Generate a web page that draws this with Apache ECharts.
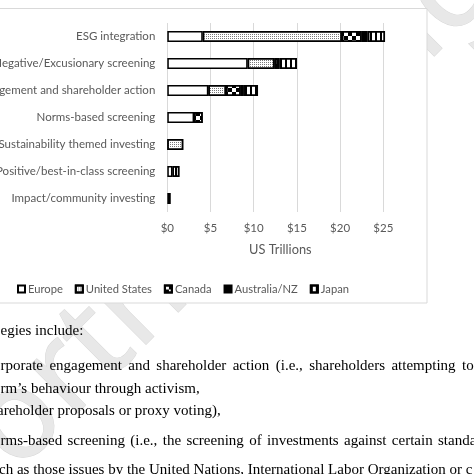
<!DOCTYPE html>
<html><head><meta charset="utf-8">
<script src="https://cdn.jsdelivr.net/npm/echarts@6/dist/echarts.min.js"></script>
<style>html,body{margin:0;padding:0;background:#fff}#c{width:474px;height:474px}</style>
</head><body><div id="c"></div>
<script>
// ---- chart data ----
const categories = ['ESG integration','Negative/Excusionary screening','Corporate engagement and shareholder action','Norms-based screening','Sustainability themed investing','Positive/best-in-class screening','Impact/community investing'];
const seriesNames = ['Europe','United States','Canada','Australia/NZ','Japan'];
const europe       = [4.1, 9.3, 4.75, 3.1, 0,    0.6, 0];
const unitedStates = [16.1, 3.1, 2.05, 0,  1.85, 0,   0];
const canada       = [2.3, 0.4, 1.7,  1.0, 0,    0,   0];
const australiaNZ  = [0.7, 0.2, 0.3,  0,   0,    0,   0.4];
const japan        = [2.0, 2.0, 1.7,  0,   0,    0.8, 0];
const xTicks = [0, 5, 10, 15, 20, 25];
const axisTitle = 'US Trillions';

// ---- page text around the chart ----
const textLines = [
  {words:['egies include:'], y:335},
  {words:['rporate','engagement','and','shareholder','action','(i.e.,','shareholders','attempting','to'], y:370.5, justifyTo:462},
  {words:['rm\u2019s behaviour through activism,'], y:393},
  {words:['areholder proposals or proxy voting),'], y:415.5, x0:-3},
  {words:['rms-based','screening','(i.e.,','the','screening','of','investments','against','certain','standards'], y:445, justifyTo:438},
  {words:['ch as those issues by the United Nations, International Labor Organization or c'], y:474.5, x0:-1}
];

const values = [europe, unitedStates, canada, australiaNZ, japan];
const fills = ['#ffffff','#ffffff','#ffffff','#000000','#ffffff'];
const decals = [
  null,
  {symbol:'rect', symbolSize:1, color:'#7a7a7a', dashArrayX:[1,1], dashArrayY:[1,1]},
  {symbol:'rect', symbolSize:1, color:'#000', dashArrayX:[[4,4],[0,4,4,0]], dashArrayY:[4,0]},
  null,
  {symbol:'rect', symbolSize:1, color:'#000', dashArrayX:[1.5,3], dashArrayY:[1,0]}
];

const FONT = 'Lato';
const GRAY = '#595959';
const serif = '15px "Liberation Serif"';
const ctx = document.createElement('canvas').getContext('2d');
ctx.font = serif;

const textEls = [];
textLines.forEach(line => {
  const x0 = line.x0 !== undefined ? line.x0 : 0.5;
  const baseY = line.y + 3.5;
  if (line.justifyTo !== undefined && line.words.length > 1) {
    const widths = line.words.map(w => ctx.measureText(w).width);
    const before = widths.slice(0, -1).reduce((a,b)=>a+b, 0);
    const gap = (line.justifyTo - x0 - before) / (line.words.length - 1);
    let x = x0;
    line.words.forEach((w, i) => {
      textEls.push({type:'text', z:10, style:{x:x, y:baseY, text:w, font:serif, fill:'#000', textAlign:'left', textVerticalAlign:'bottom'}});
      x += widths[i] + gap;
    });
  } else {
    textEls.push({type:'text', z:10, style:{x:x0, y:baseY, text:line.words.join(' '), font:serif, fill:'#000', textAlign:'left', textVerticalAlign:'bottom'}});
  }
});

const chart = echarts.init(document.getElementById('c'), null, {renderer:'canvas'});
const option = {
  animation: false,
  backgroundColor: '#fff',
  textStyle: {fontFamily: FONT},
  grid: {left:167.3, right:90.7, top:23, bottom:262, containLabel:false, outerBoundsMode:'none'},
  legend: {
    data: seriesNames, left: 12, top: 278.5, icon: 'rect',
    itemWidth: 7, itemHeight: 7, itemGap: 12,
    textStyle: {color: GRAY, fontSize: 11.2, fontFamily: FONT, padding:[0,0,0,-2]}
  },
  xAxis: {
    type: 'value', min: xTicks[0], max: xTicks[xTicks.length-1], interval: xTicks[1]-xTicks[0],
    axisLine: {show:false}, axisTick: {show:false},
    splitLine: {show:true, lineStyle:{color:'#d9d9d9', width:1}},
    axisLabel: {color: GRAY, fontSize: 11.5, fontFamily: FONT, margin: 10, formatter: v => '$' + v},
    name: axisTitle, nameLocation: 'middle', nameGap: 31,
    nameTextStyle: {color: GRAY, fontSize: 12.8, fontFamily: FONT, padding:[0,0,0,10]}
  },
  yAxis: {
    type: 'category', data: categories, inverse: true,
    axisLine: {show:false}, axisTick: {show:false}, splitLine: {show:false},
    axisLabel: {color: GRAY, fontSize: 11.5, fontFamily: FONT, margin: 12}
  },
  series: seriesNames.map((n, i) => {
    const s = {
      type: 'bar', name: n, stack: 'total', barWidth: 11, clip: false,
      data: values[i].map(v => v === 0 ? '-' : v),
      itemStyle: {color: fills[i], borderColor: '#000', borderWidth: 1.5}
    };
    if (decals[i]) s.itemStyle.decal = decals[i];
    return s;
  }),
  graphic: [
    {type:'text', z:-20, x:212, y:228, rotation:Math.PI/4,
      style:{x:0, y:0, text:'Forthcoming', font:'125px "Noto Sans"', fill:'#e8e8e8', stroke:'#d8d8d8', lineWidth:1, textAlign:'center', textVerticalAlign:'middle'}},
    {type:'rect', z:-10, shape:{x:-5, y:8.5, width:432, height:294.5},
      style:{fill:'#fff', stroke:'#d9d9d9', lineWidth:1}}
  ].concat(textEls)
};
chart.setOption(option);
</script>
</body></html>
